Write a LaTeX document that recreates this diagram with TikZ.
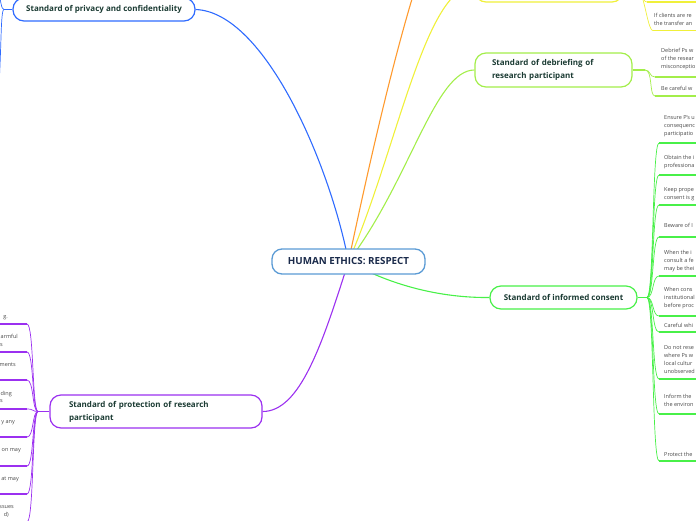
\documentclass[tikz,border=0pt]{standalone}
\usepackage{fontspec}
\setmainfont{Open Sans}
\definecolor{cblue}{HTML}{2F6BFF}
\definecolor{corange}{HTML}{FF9A2E}
\definecolor{cyellow}{HTML}{F0F03A}
\definecolor{clime}{HTML}{A3EE4A}
\definecolor{cgreen}{HTML}{48F048}
\definecolor{cpurple}{HTML}{9B30F0}
\definecolor{ccenter}{HTML}{5B9BD5}
\definecolor{ctext}{HTML}{1B3B33}
\definecolor{cnavy}{HTML}{1B2B4B}
\definecolor{cleaf}{HTML}{484848}
\newcommand{\lf}[1]{\parbox[t]{120pt}{\raggedright #1}}
\begin{document}
\begin{tikzpicture}[x=1pt,y=-1pt,
  mainnode/.style={draw=ccenter, line width=1.3pt, rounded corners=10pt, fill=white,
    font=\bfseries\fontsize{9.8}{11}\selectfont, text=cnavy, minimum width=153pt,
    minimum height=25pt, inner sep=0pt},
  branchnode/.style={rounded corners=11pt, line width=1.2pt, fill=white,
    font=\bfseries\fontsize{8}{13}\selectfont, text=ctext, inner sep=0pt},
  branchline/.style={line width=1.1pt},
  subline/.style={line width=0.7pt},
  bottomline/.style={line width=1.6pt},
  leaf/.style={font=\fontsize{5.5}{8.3}\selectfont, text=cleaf, inner sep=0pt, anchor=base west},
  leafl/.style={font=\fontsize{5.5}{8.3}\selectfont, text=cleaf, inner sep=0pt, anchor=base east}]
\useasboundingbox (0,0) rectangle (696,520);
\clip (0,0) rectangle (696,520);

% ---------- branch nodes ----------
\node[branchnode, draw=cblue, minimum width=182pt, minimum height=23pt] (priv) at (104,9.5)
  {Standard of privacy and confidentiality};
\node[branchnode, draw=cyellow, minimum width=148pt, minimum height=32pt] (yel) at (549,-14) {};
\node[branchnode, draw=clime, minimum width=157pt, minimum height=34pt, align=left,
  text width=123pt, inner xsep=17pt] (deb) at (553.5,70)
  {Standard of debriefing of\\research participant};
\node[branchnode, draw=cgreen, minimum width=147pt, minimum height=23pt] (cons) at (563.5,297.5)
  {Standard of informed consent};
\node[branchnode, draw=cpurple, minimum width=212pt, minimum height=33pt, align=left,
  text width=174pt, inner xsep=19pt] (prot) at (156,411.5)
  {Standard of protection of research\\participant};

% ---------- main connectors ----------
\coordinate (c0) at (348.5,261.5);
\draw[branchline, cblue] (c0) .. controls (330,165) and (265,12) .. (priv.east);
\draw[branchline, corange] (c0) .. controls (370,160) and (395,50) .. (421,-30);
\draw[branchline, cyellow] (c0) .. controls (397,150) and (425,-14) .. (yel.west);
\draw[branchline, clime] (c0) .. controls (410,180) and (435,70) .. (deb.west);
\draw[branchline, cgreen] (c0) .. controls (390,285) and (440,298) .. (cons.west);
\draw[branchline, cpurple] (c0) .. controls (322,345) and (300,411.5) .. (prot.east);

\node[mainnode] (c) at (348.5,261.5) {HUMAN ETHICS: RESPECT};

% ---------- privacy (blue) children ----------
\coordinate (bj) at (4,9.5);
\draw[branchline, cblue] (priv.west) -- (bj);
\draw[subline, cblue] (bj) .. controls (1,9.5) and (1,0) .. (-2,-10);
\draw[subline, cblue] (bj) .. controls (0,9.5) and (2,60) .. (-3,110);

% ---------- yellow children ----------
\coordinate (yj) at (635,-14);
\draw[branchline, cyellow] (yel.east) -- (yj);
\coordinate (y1) at (647,2);
\coordinate (y2) at (653,30.5);
\draw[subline, cyellow] (yj) .. controls (642,-14) and (641,2) .. (y1);
\draw[subline, cyellow] (yj) .. controls (644,-14) and (647,30.5) .. (y2);
\draw[bottomline, cyellow] (y1) -- (700,2);
\draw[bottomline, cyellow] (y2) -- (700,30.5);
\node[leaf] (yt2) at (654,17) {\lf{If clients are re\\the transfer an}};

% ---------- debriefing children ----------
\coordinate (dj) at (645,70);
\draw[branchline, clime] (deb.east) -- (dj);
\coordinate (d1) at (655,77);
\coordinate (d2) at (655,96);
\draw[subline, clime] (dj) .. controls (651,70) and (649,77) .. (d1);
\draw[subline, clime] (dj) .. controls (653,70) and (649,96) .. (d2);
\draw[bottomline, clime] (d1) -- (700,77);
\draw[bottomline, clime] (d2) -- (700,96);
\node[leaf] (dt1) at (661,52) {\lf{Debrief Ps w\\of the resear\\misconceptio}};
\node[leaf] (dt2) at (661,90) {\lf{Be careful w}};

% ---------- consent children ----------
\coordinate (cj) at (647,297.5);
\draw[branchline, cgreen] (cons.east) -- (cj);
\foreach \b [count=\i] in {143,175,205,237,276,316,332,379,414,461}{
  \coordinate (k\i) at (659,\b);
  \draw[subline, cgreen] (cj) .. controls (654,297.5) and (652,\b) .. (k\i);
  \draw[bottomline, cgreen] (k\i) -- (700,\b);
}
\node[leaf] (ct1) at (664,119) {\lf{Ensure P's u\\consequenc\\participatio}};
\node[leaf] (ct2) at (664,159) {\lf{Obtain the i\\professiona}};
\node[leaf] (ct3) at (664,191) {\lf{Keep prope\\consent is g}};
\node[leaf] (ct4) at (664,227) {\lf{Beware of I}};
\node[leaf] (ct5) at (664,254) {\lf{When the i\\consult a fe\\may be thei}};
\node[leaf] (ct6) at (664,291) {\lf{When cons\\institutional\\before proc}};
\node[leaf] (ct7) at (664,327) {\lf{Careful whi}};
\node[leaf] (ct8) at (664,349) {\lf{Do not rese\\where Ps w\\local cultur\\unobserved}};
\node[leaf] (ct9) at (664,398) {\lf{Inform the\\the environ}};
\node[leaf] (ct10) at (664,456) {\lf{Protect the}};

% ---------- protection (purple) children ----------
\coordinate (pj) at (38,411.5);
\draw[branchline, cpurple] (prot.west) -- (pj);
\foreach \b [count=\i] in {324,352,380,409,437,466,494,522}{
  \coordinate (p\i) at (27,\b);
  \draw[subline, cpurple] (pj) .. controls (32,411.5) and (34,\b) .. (p\i);
  \draw[bottomline, cpurple] (p\i) -- (-5,\b);
}
\node[leafl] (pt1) at (8,318) {g.};
\node[leafl] (pt2a) at (18,338) {armful};
\node[leafl] (pt2b) at (3,346) {s};
\node[leafl] (pt3) at (16,366) {ments};
\node[leafl] (pt4a) at (12,395) {ding};
\node[leafl] (pt4b) at (3,402) {s};
\node[leafl] (pt5) at (15,423) {y any};
\node[leafl] (pt6) at (21,451) {on may};
\node[leafl] (pt7) at (19,480) {at may};
\node[leafl] (pt8a) at (14,508) {ssues};
\node[leafl] (pt8b) at (9,516) {d)};
\end{tikzpicture}
\end{document}
